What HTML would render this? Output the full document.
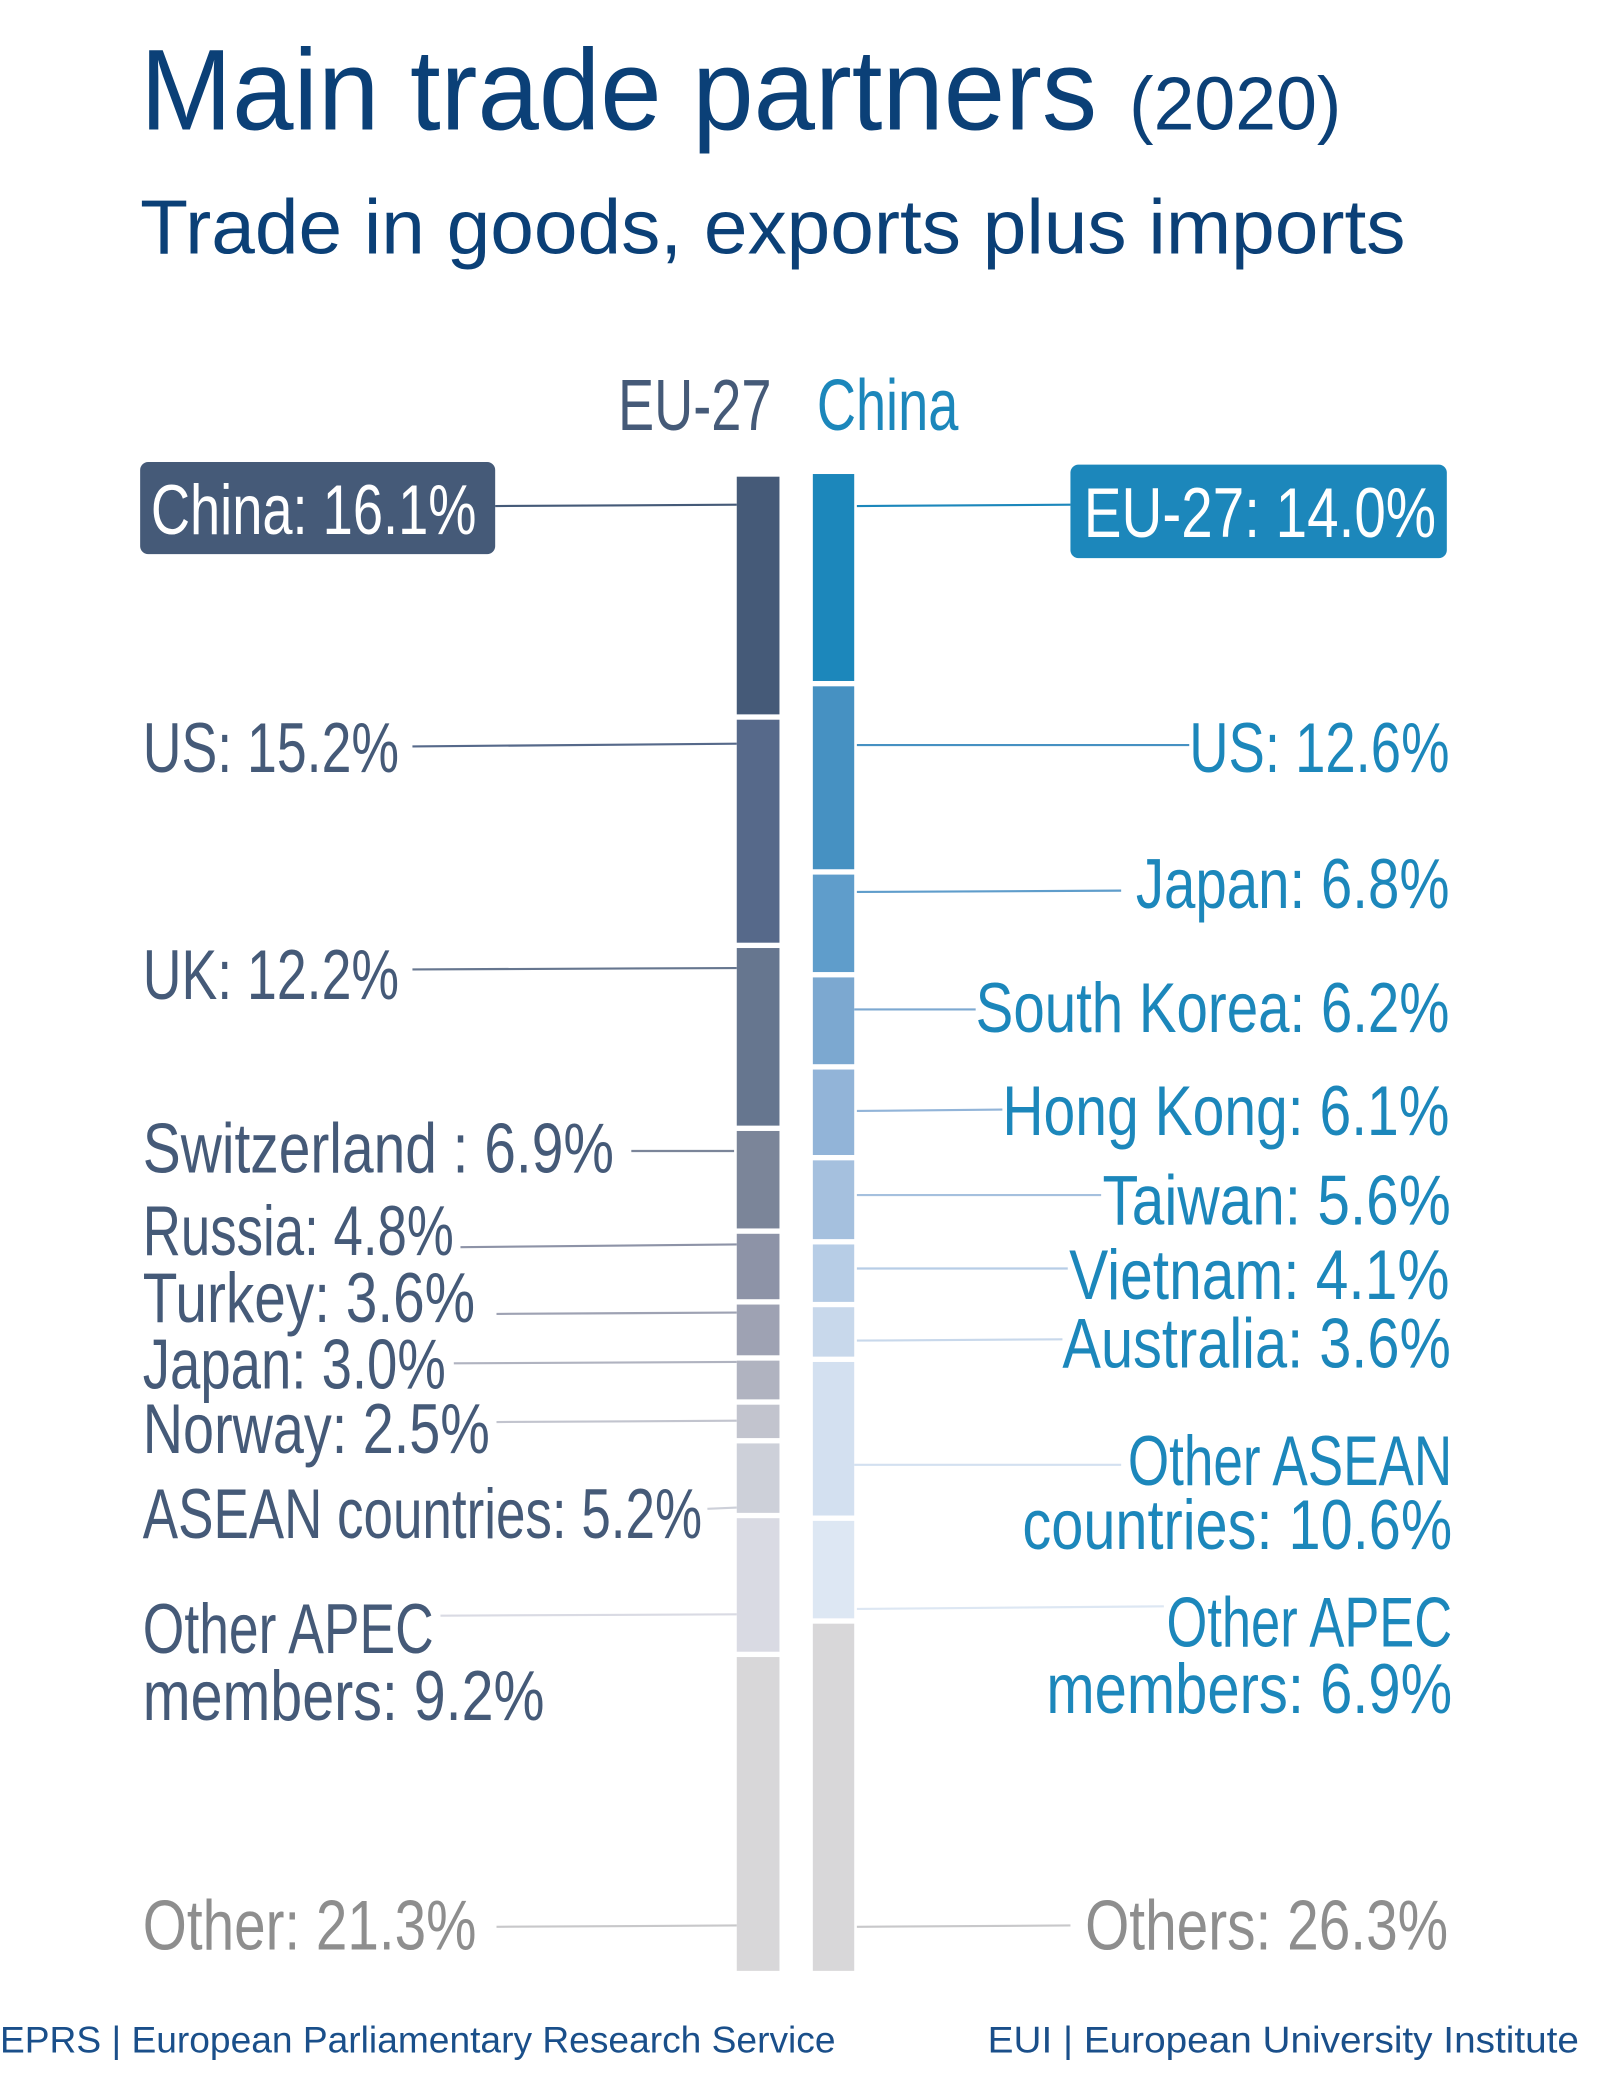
<!DOCTYPE html>
<html><head><meta charset="utf-8"><style>
html,body{margin:0;padding:0;background:#fff}
svg{display:block}
text{font-family:"Liberation Sans",sans-serif}
</style></head><body>
<svg width="1615" height="2075" viewBox="0 0 1210 1554" preserveAspectRatio="none" xmlns="http://www.w3.org/2000/svg">
<text x="105" y="97" font-size="86" fill="#0b4077" textLength="717" lengthAdjust="spacingAndGlyphs">Main trade partners</text>
<text x="846" y="97" font-size="56" fill="#0b4077" textLength="159" lengthAdjust="spacingAndGlyphs">(2020)</text>
<text x="105" y="190" font-size="58" fill="#0b4077" textLength="948" lengthAdjust="spacingAndGlyphs">Trade in goods, exports plus imports</text>
<text x="463" y="322" font-size="54" fill="#455a78" textLength="115" lengthAdjust="spacingAndGlyphs">EU-27</text>
<text x="612" y="322" font-size="54" fill="#1c87bb" textLength="106" lengthAdjust="spacingAndGlyphs">China</text>
<g>
<rect x="552" y="357" width="32" height="178" fill="#455a78"/>
<rect x="552" y="539" width="32" height="167" fill="#56698a"/>
<rect x="552" y="710" width="32" height="133" fill="#66768f"/>
<rect x="552" y="847" width="32" height="73" fill="#7b8599"/>
<rect x="552" y="924" width="32" height="49" fill="#8d93a7"/>
<rect x="552" y="977" width="32" height="38" fill="#9ea2b3"/>
<rect x="552" y="1019" width="32" height="29" fill="#b0b3c0"/>
<rect x="552" y="1052" width="32" height="25" fill="#c2c4ce"/>
<rect x="552" y="1081" width="32" height="52" fill="#cdd0d9"/>
<rect x="552" y="1137" width="32" height="100" fill="#d9dae3"/>
<rect x="552" y="1241" width="32" height="235" fill="#d8d7d9"/>
</g>
<g>
<rect x="609" y="355" width="31" height="155" fill="#1c87bb"/>
<rect x="609" y="514" width="31" height="137" fill="#4691c2"/>
<rect x="609" y="655" width="31" height="73" fill="#5f9dcb"/>
<rect x="609" y="732" width="31" height="65" fill="#7ca8d0"/>
<rect x="609" y="801" width="31" height="64" fill="#92b4d8"/>
<rect x="609" y="869" width="31" height="59" fill="#a5c0de"/>
<rect x="609" y="932" width="31" height="43" fill="#b7cde6"/>
<rect x="609" y="979" width="31" height="37" fill="#c8d8eb"/>
<rect x="609" y="1020" width="31" height="115" fill="#d3e0f0"/>
<rect x="609" y="1139" width="31" height="73" fill="#dde7f3"/>
<rect x="609" y="1216" width="31" height="260" fill="#d8d7d9"/>
</g>
<g stroke-width="1.6" fill="none">
<line x1="371" y1="379" x2="552" y2="378" stroke="#455a78"/>
<line x1="309" y1="559" x2="552" y2="557" stroke="#56698a"/>
<line x1="309" y1="726" x2="552" y2="725" stroke="#66768f"/>
<line x1="473" y1="862" x2="550" y2="862" stroke="#7b8599"/>
<line x1="345" y1="934" x2="552" y2="932" stroke="#8d93a7"/>
<line x1="372" y1="984" x2="552" y2="983" stroke="#9ea2b3"/>
<line x1="340" y1="1021" x2="552" y2="1020" stroke="#b0b3c0"/>
<line x1="372" y1="1065" x2="552" y2="1064" stroke="#c2c4ce"/>
<line x1="530" y1="1130" x2="552" y2="1129" stroke="#cdd0d9"/>
<line x1="330" y1="1210" x2="552" y2="1209" stroke="#d9dae3"/>
<line x1="372" y1="1443" x2="552" y2="1442" stroke="#c8c8ca"/>
<line x1="642" y1="379" x2="802" y2="378" stroke="#1c87bb"/>
<line x1="642" y1="558" x2="891" y2="558" stroke="#4691c2"/>
<line x1="642" y1="668" x2="840" y2="667" stroke="#5f9dcb"/>
<line x1="640" y1="756" x2="731" y2="756" stroke="#7ca8d0"/>
<line x1="642" y1="832" x2="751" y2="831" stroke="#92b4d8"/>
<line x1="642" y1="895" x2="825" y2="895" stroke="#a5c0de"/>
<line x1="642" y1="950" x2="800" y2="950" stroke="#b7cde6"/>
<line x1="642" y1="1004" x2="796" y2="1003" stroke="#c8d8eb"/>
<line x1="640" y1="1097" x2="840" y2="1097" stroke="#d3e0f0"/>
<line x1="642" y1="1205" x2="872" y2="1203" stroke="#dde7f3"/>
<line x1="642" y1="1443" x2="802" y2="1442" stroke="#c8c8ca"/>
</g>
<rect x="105" y="346" width="266" height="69" rx="6" fill="#455a78"/>
<rect x="802" y="348" width="282" height="70" rx="6" fill="#1c87bb"/>
<g font-size="53" fill="#455a78">
<text x="113" y="400" fill="#fff" textLength="244" lengthAdjust="spacingAndGlyphs">China: 16.1%</text>
<text x="107" y="578" textLength="192" lengthAdjust="spacingAndGlyphs">US: 15.2%</text>
<text x="107" y="748" textLength="192" lengthAdjust="spacingAndGlyphs">UK: 12.2%</text>
<text x="107" y="878" textLength="353" lengthAdjust="spacingAndGlyphs">Switzerland : 6.9%</text>
<text x="107" y="940" textLength="233" lengthAdjust="spacingAndGlyphs">Russia: 4.8%</text>
<text x="107" y="990" textLength="249" lengthAdjust="spacingAndGlyphs">Turkey: 3.6%</text>
<text x="107" y="1040" textLength="227" lengthAdjust="spacingAndGlyphs">Japan: 3.0%</text>
<text x="107" y="1088" textLength="260" lengthAdjust="spacingAndGlyphs">Norway: 2.5%</text>
<text x="107" y="1152" textLength="419" lengthAdjust="spacingAndGlyphs">ASEAN countries: 5.2%</text>
<text x="107" y="1238" textLength="218" lengthAdjust="spacingAndGlyphs">Other APEC</text>
<text x="107" y="1288" textLength="301" lengthAdjust="spacingAndGlyphs">members: 9.2%</text>
<text x="107" y="1460" fill="#8e8e8e" textLength="250" lengthAdjust="spacingAndGlyphs">Other: 21.3%</text>
</g>
<g font-size="53" fill="#1c87bb">
<text x="812" y="402" fill="#fff" textLength="264" lengthAdjust="spacingAndGlyphs">EU-27: 14.0%</text>
<text x="891" y="578" textLength="195" lengthAdjust="spacingAndGlyphs">US: 12.6%</text>
<text x="851" y="680" textLength="235" lengthAdjust="spacingAndGlyphs">Japan: 6.8%</text>
<text x="731" y="773" textLength="355" lengthAdjust="spacingAndGlyphs">South Korea: 6.2%</text>
<text x="751" y="850" textLength="335" lengthAdjust="spacingAndGlyphs">Hong Kong: 6.1%</text>
<text x="826" y="917" textLength="261" lengthAdjust="spacingAndGlyphs">Taiwan: 5.6%</text>
<text x="801" y="973" textLength="285" lengthAdjust="spacingAndGlyphs">Vietnam: 4.1%</text>
<text x="796" y="1024" textLength="291" lengthAdjust="spacingAndGlyphs">Australia: 3.6%</text>
<text x="845" y="1112" textLength="243" lengthAdjust="spacingAndGlyphs">Other ASEAN</text>
<text x="766" y="1160" textLength="322" lengthAdjust="spacingAndGlyphs">countries: 10.6%</text>
<text x="874" y="1233" textLength="214" lengthAdjust="spacingAndGlyphs">Other APEC</text>
<text x="784" y="1283" textLength="304" lengthAdjust="spacingAndGlyphs">members: 6.9%</text>
<text x="813" y="1460" fill="#8e8e8e" textLength="272" lengthAdjust="spacingAndGlyphs">Others: 26.3%</text>
</g>
<g font-size="28" fill="#1a4f8a">
<text x="0" y="1537" textLength="626" lengthAdjust="spacingAndGlyphs">EPRS | European Parliamentary Research Service</text>
<text x="740" y="1537" textLength="443" lengthAdjust="spacingAndGlyphs">EUI | European University Institute</text>
</g>
</svg>
</body></html>
